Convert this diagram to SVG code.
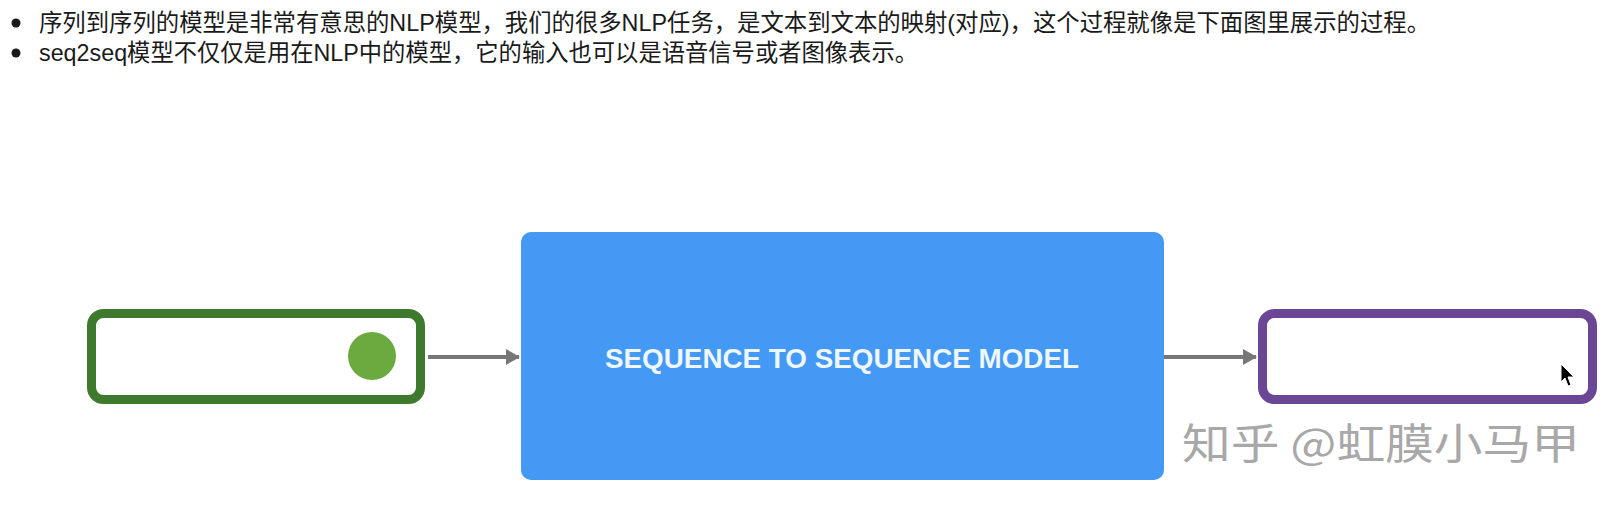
<svg xmlns="http://www.w3.org/2000/svg" width="1622" height="513" viewBox="0 0 1622 513">
<style>
.t{font-family:"Liberation Sans","Noto Sans CJK SC",sans-serif;font-size:24px;fill:#1a1a1a}
.lbl{font-family:"Liberation Sans",Arial,sans-serif;font-weight:bold;font-size:28px;fill:#eef6ff}
.wm{font-family:"Noto Sans CJK SC",sans-serif;font-size:42px;fill:#a8a8a8}
.conn{stroke:#777;stroke-width:4;fill:none}
</style>
<defs>
<marker id="ah" viewBox="0 0 14 16" refX="13" refY="8" markerWidth="14" markerHeight="16" markerUnits="userSpaceOnUse" orient="auto">
<path d="M0,0 L14,8 L0,16 Z" fill="#777"/>
</marker>
</defs>
<rect width="1622" height="513" fill="#fff"/>
<g id="text">
<circle cx="16" cy="23" r="4.5" fill="#1a1a1a"/>
<circle cx="16" cy="53" r="4.5" fill="#1a1a1a"/>
<text class="t" x="39" y="31" textLength="1391" lengthAdjust="spacingAndGlyphs">序列到序列的模型是非常有意思的NLP模型，我们的很多NLP任务，是文本到文本的映射(对应)，这个过程就像是下面图里展示的过程。</text>
<text class="t" x="39" y="61" textLength="879" lengthAdjust="spacingAndGlyphs">seq2seq模型不仅仅是用在NLP中的模型，它的输入也可以是语音信号或者图像表示。</text>
</g>
<g id="connectors">
<line class="conn" x1="428" y1="357" x2="519" y2="357" marker-end="url(#ah)"/>
<line class="conn" x1="1164" y1="357" x2="1256" y2="357" marker-end="url(#ah)"/>
</g>
<g id="input">
<rect x="91.5" y="313.5" width="329" height="86" rx="12" fill="#fff" stroke="#3d7a2e" stroke-width="9"/>
<circle cx="372" cy="356" r="24" fill="#6aaa3f"/>
</g>
<g id="model">
<rect x="521" y="232" width="643" height="248" rx="10" fill="#4499f5"/>
<text class="lbl" x="842" y="368" text-anchor="middle" textLength="474" lengthAdjust="spacingAndGlyphs">SEQUENCE TO SEQUENCE MODEL</text>
</g>
<g id="output">
<rect x="1262.5" y="313.5" width="330" height="86" rx="12" fill="#fff" stroke="#6b4694" stroke-width="9"/>
<path d="M1561,364 L1561,382 L1565,378 L1568,386 L1571,385 L1568,377 L1574,377 Z" fill="#000" stroke="#fff" stroke-width="1"/>
</g>
<g id="watermark">
<text class="wm" x="1182" y="459" textLength="398" lengthAdjust="spacingAndGlyphs">知乎 @虹膜小马甲</text>
</g>
</svg>
